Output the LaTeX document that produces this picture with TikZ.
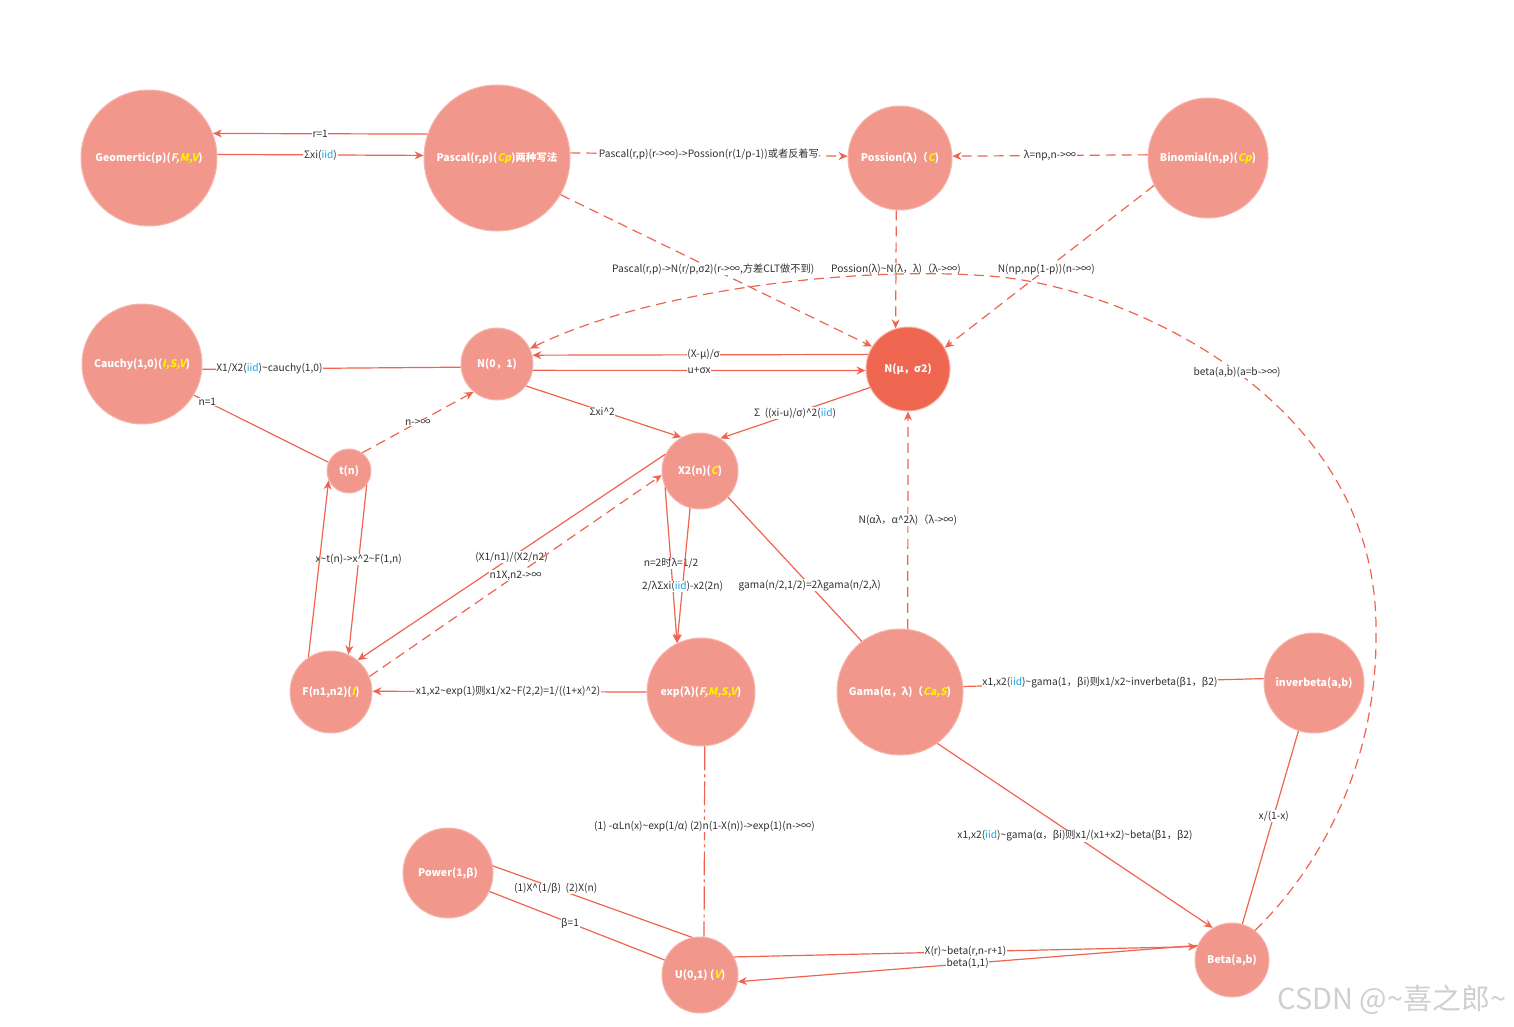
\documentclass[tikz,border=0pt]{standalone}
\usepackage{fontspec}
\setmainfont{Noto Sans CJK SC}
\usetikzlibrary{arrows.meta}
\definecolor{nodefill}{HTML}{F2978C}
\definecolor{nodeborder}{HTML}{F6B6AE}
\definecolor{nodedark}{HTML}{EF6651}
\definecolor{edgecol}{HTML}{EE6450}
\definecolor{labeltext}{HTML}{303030}
\definecolor{iidblue}{HTML}{1AA3E8}
\definecolor{nodeyellow}{HTML}{FFF200}
\definecolor{palewhite}{HTML}{FFF6D0}
\definecolor{wmgray}{HTML}{CFCFCF}
\newcommand\nodefont{\fontsize{10.5}{12}\selectfont\bfseries}
\newcommand\lblfont{\fontsize{10.2}{12}\selectfont}
\newcommand\myiid{\textcolor{iidblue}{iid}}
\newcommand\yel[1]{{\addfontfeatures{FakeSlant=0.22}\textcolor{nodeyellow}{#1}}}
\newcommand\pale[1]{{\addfontfeatures{FakeSlant=0.22}\textcolor{palewhite}{#1}}}
\tikzset{
  dist/.style={circle, fill=nodefill, draw=nodeborder, line width=1pt, inner sep=0pt, text=white, font=\nodefont},
  conn/.style={draw=edgecol, line width=1.2pt},
  arr/.style={-{Stealth[length=9pt,width=8pt]}},
  dsh/.style={dash pattern=on 10pt off 6pt},
  ddot/.style={dash pattern=on 24pt off 4pt on 3pt off 4pt},
  lbl/.style={fill=white, inner sep=0.6pt, text=labeltext, font=\lblfont},
}
\begin{document}
\begin{tikzpicture}[x=1pt,y=-1pt]
\useasboundingbox (0,0) rectangle (1514,1027);
% nodes
\node[dist, minimum size=136pt] (geo) at (149,158) {Geomertic(p)(\pale{F,}\yel{M,V})};
\node[dist, minimum size=146pt] (pascal) at (497,158) {Pascal(r,p)(\yel{Cp})两种写法};
\node[dist, minimum size=104pt] (poisson) at (900,158) {Possion(λ)（\yel{C})};
\node[dist, minimum size=120pt] (binom) at (1208,158) {Binomial(n,p)(\yel{Cp})};
\node[dist, minimum size=120pt] (cauchy) at (142,364) {Cauchy(1,0)(\yel{I,S,V})};
\node[dist, minimum size=72pt] (n01) at (497,364) {N(0，1)};
\node[dist, minimum size=84pt, fill=nodedark] (nmu) at (908,369) {N(μ，σ2)};
\node[dist, minimum size=44pt] (tn) at (349,471) {t(n)};
\node[dist, minimum size=76pt] (x2) at (700,471) {X2(n)(\yel{C})};
\node[dist, minimum size=82pt] (fdist) at (331,692) {F(n1,n2)(\yel{I})};
\node[dist, minimum size=108pt] (expd) at (701,692) {exp(λ)(\pale{F,}\yel{M,S,V})};
\node[dist, minimum size=126pt] (gama) at (900,692) {Gama(α，λ)（\yel{Ca,S})};
\node[dist, minimum size=100pt] (invb) at (1314,683) {inverbeta(a,b)};
\node[dist, minimum size=90pt] (power) at (448,873) {Power(1,β)};
\node[dist, minimum size=76pt] (unif) at (700,975) {U(0,1) (\yel{V})};
\node[dist, minimum size=74pt] (beta) at (1232,960) {Beta(a,b)};
\coordinate (c1) at (1376,630);
\coordinate (c2) at (1000,277);
% top row
\draw[conn,arr] (pascal.161) -- (geo.21) node[lbl,pos=0.5]{r=1};
\draw[conn,arr] (geo.3) -- (pascal.178) node[lbl,pos=0.5]{Σxi(\myiid)};
\draw[conn,arr,dsh] (pascal.4) -- (poisson.178) node[lbl,pos=0.5]{Pascal(r,p)(r->∞)->Possion(r(1/p-1))或者反着写};
\draw[conn,arr,dsh] (binom.177) -- (poisson.2) node[lbl,pos=0.5]{λ=np,n->∞};
\draw[conn,arr,dsh] (pascal.-30) -- (nmu.148) node[lbl,pos=0.49]{Pascal(r,p)->N(r/p,σ2)(r->∞,方差CLT做不到)};
\draw[conn,arr,dsh] (poisson.-94) -- (nmu.107) node[lbl,pos=0.5]{Possion(λ)\textasciitilde N(λ，λ)（λ->∞)};
\draw[conn,arr,dsh] (binom.207) -- (nmu.30) node[lbl,pos=0.515]{N(np,np(1-p))(n->∞)};
% big curve
\draw[conn,arr,dsh] (beta.52) .. controls (1322,865) and (1378,760) .. (c1)
   .. controls (1377,400) and (1130,290) .. (c2) node[lbl,pos=0.5]{beta(a,b)(a=b->∞)}
   .. controls (880,265) and (660,285) .. (n01.25);
% middle
\draw[conn] (cauchy.-5) -- (n01.185) node[lbl,pos=0.26]{X1/X2(\myiid)\textasciitilde cauchy(1,0)};
\draw[conn] (cauchy.-31) -- (tn.157) node[lbl,pos=0.1]{n=1};
\draw[conn,arr,dsh] (tn.54) -- (n01.230) node[lbl,pos=0.5]{n->∞};
\draw[conn,arr] (nmu.160) -- (n01.14) node[lbl,pos=0.49]{(X-μ)/σ};
\draw[conn,arr] (n01.-10) -- (nmu.182) node[lbl,pos=0.5]{u+σx};
\draw[conn,arr] (n01.-37) -- (x2.119) node[lbl,pos=0.49]{Σxi\textasciicircum 2};
\draw[conn,arr] (nmu.206) -- (x2.58) node[lbl,pos=0.5]{Σ\ \ ((xi-u)/σ)\textasciicircum 2(\myiid)};
\draw[conn,arr] (tn.-38) -- (fdist.65) node[lbl,pos=0.44]{x\textasciitilde t(n)->x\textasciicircum 2\textasciitilde F(1,n)};
\draw[conn,arr] (fdist.123) -- (tn.205);
\draw[conn,arr] (x2.154) -- (fdist.50) node[lbl,pos=0.5]{(X1/n1)/(X2/n2)};
\draw[conn,arr,dsh] (fdist.22) -- (x2.186) node[lbl,pos=0.5]{n1X,n2->∞};
\draw[conn,arr] (expd.180) -- (fdist.1) node[lbl,pos=0.505]{x1,x2\textasciitilde exp(1)则x1/x2\textasciitilde F(2,2)=1/((1+x)\textasciicircum 2)};
\draw[conn,arr] (x2.205) -- (expd.116) node[lbl,pos=0.49]{n=2时λ=1/2};
\draw[conn,arr] (x2.255) -- (expd.116) node[lbl,pos=0.58]{2/λΣxi(\myiid)-x2(2n)};
\draw[conn] (x2.-43) -- (gama.127) node[lbl,pos=0.61]{gama(n/2,1/2)=2λgama(n/2,λ)};
\draw[conn,arr,dsh] (gama.83) -- (nmu.270) node[lbl,pos=0.5]{N(αλ，α\textasciicircum 2λ)（λ->∞)};
% lower
\draw[conn] (gama.5) -- (invb.175) node[lbl,pos=0.455]{x1,x2(\myiid)\textasciitilde gama(1，βi)则x1/x2\textasciitilde inverbeta(β1，β2)};
\draw[conn,arr] (gama.-54) -- (beta.121) node[lbl,pos=0.5]{x1,x2(\myiid)\textasciitilde gama(α，βi)则x1/(x1+x2)\textasciitilde beta(β1，β2)};
\draw[conn] (invb.252) -- (beta.74) node[lbl,pos=0.44]{x/(1-x)};
\draw[conn,ddot] (expd.-86) -- (unif.84) node[lbl,pos=0.42]{(1) -αLn(x)\textasciitilde exp(1/α) (2)n(1-X(n))->exp(1)(n->∞)};
\draw[conn] (power.9) -- (unif.102) node[lbl,pos=0.315]{(1)X\textasciicircum(1/β)\ \ (2)X(n)};
\draw[conn] (power.-24) -- (unif.157) node[lbl,pos=0.46]{β=1};
\draw[conn,arr] (unif.28) -- (beta.159) node[lbl,pos=0.5]{X(r)\textasciitilde beta(r,n-r+1)};
\draw[conn,arr] (beta.157) -- (unif.-10) node[lbl,pos=0.5]{beta(1,1)};
% watermark
\node[text=wmgray, font=\fontsize{29}{31}\selectfont, anchor=east] (wm) at (1510,1000) {CSDN @\textasciitilde 喜之郎\textasciitilde};
\end{tikzpicture}
\end{document}
